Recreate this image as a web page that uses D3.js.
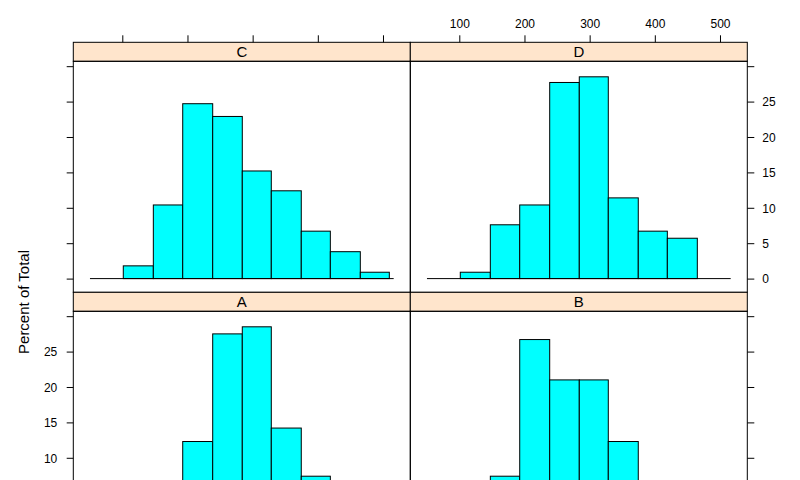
<!DOCTYPE html>
<html>
<head>
<meta charset="utf-8">
<script src="https://cdn.jsdelivr.net/npm/d3@7"></script>
<style>
  body { margin: 0; background: #fff; }
  svg { display: block; font-family: "Liberation Sans", Arial, sans-serif; }
  .tick text { fill: #000; }
</style>
</head>
<body>
<svg id="chart" width="800" height="480"></svg>
<script>
// histogram bin edges (shared by all panels)
var binEdges = [101.5, 147.6, 192.7, 238.7, 284.1, 328.6, 374.6, 419.2, 465.2, 509.7];
// range of the data, used for the zero line
var dataRange = [50.4, 516.4];

// percent of total per bin, one array per panel
var pctC = [1.8, 10.4, 24.7, 22.9, 15.2, 12.4, 6.7, 3.8, 0.9];
var pctD = [0.9, 7.6, 10.4, 27.7, 28.5, 11.4, 6.7, 5.7, 0];
var pctA = [1.0, 4.8, 12.3, 27.5, 28.5, 14.2, 7.4, 3.3, 1.0];
var pctB = [0.9, 7.4, 26.7, 21.0, 21.0, 12.3, 5.7, 3.8, 1.2];

var panelNames = ["C", "D", "A", "B"];
var xTicks = [100, 200, 300, 400, 500];
var yTicks = [0, 5, 10, 15, 20, 25, 30];
var yLabelTicks = [0, 5, 10, 15, 20, 25];

var H = 480;
var svg = d3.select("#chart");

// panel geometry (lattice style 2x2 layout)
var left = 73.3, panelW = 337, stripH = 19, panelH = 231, top0 = 42.3;

var x = d3.scaleLinear().domain([24.8, 541.9]).range([0, panelW]);
var y = d3.scaleLinear().domain([-1.935, 30.69]).range([panelH, 0]);

var panelData = { C: pctC, D: pctD, A: pctA, B: pctB };

panelNames.forEach(function(name, i) {
    var col = i % 2, row = Math.floor(i / 2);
    var px = left + col * panelW;
    var sy = top0 + row * (stripH + panelH);
    var py = sy + stripH;

    // labels only where they are inside the picture
    var shown = function(d) { return yLabelTicks.indexOf(d) >= 0 && py + y(d) + 6 < H; };

    // strip
    svg.append("rect")
        .attr("x", px).attr("y", sy)
        .attr("width", panelW).attr("height", stripH)
        .attr("fill", "#ffe5cc").attr("stroke", "#000");
    svg.append("text")
        .attr("x", px + panelW / 2).attr("y", sy + stripH / 2 + 5)
        .attr("text-anchor", "middle")
        .style("font-size", "15px")
        .text(name);

    var g = svg.append("g").attr("transform", "translate(" + px + "," + py + ")");

    // bars
    var vals = panelData[name];
    var bins = vals.map(function(v, k) { return { x0: binEdges[k], x1: binEdges[k + 1], v: v }; })
        .filter(function(d) { return d.v > 0; });
    g.selectAll("rect.bar").data(bins).enter().append("rect")
        .attr("class", "bar")
        .attr("x", function(d) { return x(d.x0); })
        .attr("y", function(d) { return y(d.v); })
        .attr("width", function(d) { return x(d.x1) - x(d.x0); })
        .attr("height", function(d) { return y(0) - y(d.v); })
        .attr("fill", "#00ffff").attr("stroke", "#000");

    // zero line
    g.append("line")
        .attr("x1", x(dataRange[0])).attr("x2", x(dataRange[1]))
        .attr("y1", y(0)).attr("y2", y(0))
        .attr("stroke", "#000");

    // panel border
    g.append("rect")
        .attr("width", panelW).attr("height", panelH)
        .attr("fill", "none").attr("stroke", "#000");

    // left axis
    if (col === 0) {
        var ax = d3.axisLeft(y).tickValues(yTicks).tickSize(6.6).tickPadding(9.4);
        var ga = g.append("g").call(ax);
        ga.select(".domain").remove();
        if (row === 0) ga.selectAll("text").remove();
        else ga.selectAll("text").filter(function(d) { return !shown(d); }).remove();
        ga.selectAll("text").style("font-size", "12px").attr("dy", "0.36em");
    }
    // right axis
    if (col === 1) {
        var ar = d3.axisRight(y).tickValues(yTicks).tickSize(7).tickPadding(8);
        var gr = g.append("g").attr("transform", "translate(" + panelW + ",0)").call(ar);
        gr.select(".domain").remove();
        if (row === 1) gr.selectAll("text").remove();
        else gr.selectAll("text").filter(function(d) { return !shown(d); }).remove();
        gr.selectAll("text").style("font-size", "12px").attr("dy", "0.36em");
    }
    // top axis
    if (row === 0) {
        var at = d3.axisTop(x).tickValues(xTicks).tickSize(7).tickPadding(7);
        var gt = svg.append("g").attr("transform", "translate(" + px + "," + sy + ")").call(at);
        gt.select(".domain").remove();
        if (col === 0) gt.selectAll("text").remove();
        gt.selectAll("text").style("font-size", "12px").attr("dy", "0");
    }
});

svg.selectAll(".tick line").attr("stroke", "#000");

// y axis title
svg.append("text")
    .attr("transform", "translate(29,302) rotate(-90)")
    .attr("text-anchor", "middle")
    .style("font-size", "15px")
    .text("Percent of Total");
</script>
</body>
</html>
